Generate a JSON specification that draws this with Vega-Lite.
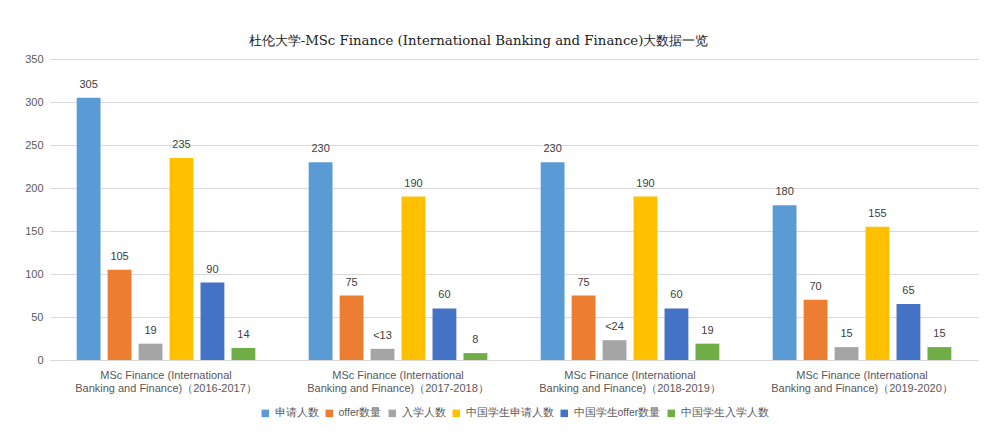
{
  "$schema": "https://vega.github.io/schema/vega-lite/v6.json",
  "autosize": "none",
  "width": 928,
  "height": 301,
  "padding": {"left": 50, "top": 59, "right": 24, "bottom": 84},
  "background": "white",
  "title": {
    "text": "杜伦大学-MSc Finance (International Banking and Finance)大数据一览",
    "font": "DejaVu Serif",
    "fontSize": 13.3,
    "fontWeight": "normal",
    "color": "#222222",
    "anchor": "start",
    "dx": 224,
    "offset": 6
  },
  "config": {
    "view": {"stroke": null},
    "font": "Liberation Sans",
    "legend": {"layout": {"bottom": {"anchor": "middle"}}}
  },
  "data": {
    "values": [
      {"group": "MSc Finance (International|Banking and Finance)（2016-2017）", "series": "申请人数", "value": 305, "label": "305"},
      {"group": "MSc Finance (International|Banking and Finance)（2016-2017）", "series": "offer数量", "value": 105, "label": "105"},
      {"group": "MSc Finance (International|Banking and Finance)（2016-2017）", "series": "入学人数", "value": 19, "label": "19"},
      {"group": "MSc Finance (International|Banking and Finance)（2016-2017）", "series": "中国学生申请人数", "value": 235, "label": "235"},
      {"group": "MSc Finance (International|Banking and Finance)（2016-2017）", "series": "中国学生offer数量", "value": 90, "label": "90"},
      {"group": "MSc Finance (International|Banking and Finance)（2016-2017）", "series": "中国学生入学人数", "value": 14, "label": "14"},
      {"group": "MSc Finance (International|Banking and Finance)（2017-2018）", "series": "申请人数", "value": 230, "label": "230"},
      {"group": "MSc Finance (International|Banking and Finance)（2017-2018）", "series": "offer数量", "value": 75, "label": "75"},
      {"group": "MSc Finance (International|Banking and Finance)（2017-2018）", "series": "入学人数", "value": 13, "label": "<13"},
      {"group": "MSc Finance (International|Banking and Finance)（2017-2018）", "series": "中国学生申请人数", "value": 190, "label": "190"},
      {"group": "MSc Finance (International|Banking and Finance)（2017-2018）", "series": "中国学生offer数量", "value": 60, "label": "60"},
      {"group": "MSc Finance (International|Banking and Finance)（2017-2018）", "series": "中国学生入学人数", "value": 8, "label": "8"},
      {"group": "MSc Finance (International|Banking and Finance)（2018-2019）", "series": "申请人数", "value": 230, "label": "230"},
      {"group": "MSc Finance (International|Banking and Finance)（2018-2019）", "series": "offer数量", "value": 75, "label": "75"},
      {"group": "MSc Finance (International|Banking and Finance)（2018-2019）", "series": "入学人数", "value": 23, "label": "<24"},
      {"group": "MSc Finance (International|Banking and Finance)（2018-2019）", "series": "中国学生申请人数", "value": 190, "label": "190"},
      {"group": "MSc Finance (International|Banking and Finance)（2018-2019）", "series": "中国学生offer数量", "value": 60, "label": "60"},
      {"group": "MSc Finance (International|Banking and Finance)（2018-2019）", "series": "中国学生入学人数", "value": 19, "label": "19"},
      {"group": "MSc Finance (International|Banking and Finance)（2019-2020）", "series": "申请人数", "value": 180, "label": "180"},
      {"group": "MSc Finance (International|Banking and Finance)（2019-2020）", "series": "offer数量", "value": 70, "label": "70"},
      {"group": "MSc Finance (International|Banking and Finance)（2019-2020）", "series": "入学人数", "value": 15, "label": "15"},
      {"group": "MSc Finance (International|Banking and Finance)（2019-2020）", "series": "中国学生申请人数", "value": 155, "label": "155"},
      {"group": "MSc Finance (International|Banking and Finance)（2019-2020）", "series": "中国学生offer数量", "value": 65, "label": "65"},
      {"group": "MSc Finance (International|Banking and Finance)（2019-2020）", "series": "中国学生入学人数", "value": 15, "label": "15"}
    ]
  },
  "encoding": {
    "x": {
      "field": "group",
      "type": "nominal",
      "sort": null,
      "title": null,
      "scale": {"paddingInner": 0.23, "paddingOuter": 0.115},
      "axis": {
        "labelAngle": 0,
        "labelExpr": "split(datum.label, '|')",
        "labelFontSize": 11,
        "labelColor": "#595959",
        "labelPadding": 9,
        "labelLineHeight": 13,
        "labelLimit": 400,
        "ticks": false,
        "domainColor": "#D9D9D9"
      }
    },
    "xOffset": {
      "field": "series",
      "type": "nominal",
      "sort": ["申请人数", "offer数量", "入学人数", "中国学生申请人数", "中国学生offer数量", "中国学生入学人数"],
      "scale": {"paddingInner": 0.23, "paddingOuter": 0}
    },
    "y": {
      "field": "value",
      "type": "quantitative",
      "title": null,
      "scale": {"domain": [0, 350]},
      "axis": {
        "values": [0, 50, 100, 150, 200, 250, 300, 350],
        "labelFontSize": 11,
        "labelColor": "#595959",
        "labelPadding": 7,
        "ticks": false,
        "domain": false,
        "gridColor": "#D9D9D9"
      }
    }
  },
  "layer": [
    {
      "mark": {"type": "bar"},
      "encoding": {
        "color": {
          "field": "series",
          "type": "nominal",
          "sort": ["申请人数", "offer数量", "入学人数", "中国学生申请人数", "中国学生offer数量", "中国学生入学人数"],
          "scale": {
            "domain": ["申请人数", "offer数量", "入学人数", "中国学生申请人数", "中国学生offer数量", "中国学生入学人数"],
            "range": ["#5B9BD5", "#ED7D31", "#A5A5A5", "#FFC000", "#4472C4", "#70AD47"]
          },
          "legend": {
            "orient": "bottom",
            "direction": "horizontal",
            "title": null,
            "symbolType": "square",
            "symbolSize": 56,
            "symbolStrokeWidth": 0,
            "labelFontSize": 10.5,
            "labelColor": "#595959",
            "columnPadding": 5,
            "labelOffset": 4,
            "offset": 15
          }
        }
      }
    },
    {
      "mark": {"type": "text", "baseline": "bottom", "dy": -8, "fontSize": 11, "color": "#404040"},
      "encoding": {
        "text": {"field": "label"}
      }
    }
  ]
}
